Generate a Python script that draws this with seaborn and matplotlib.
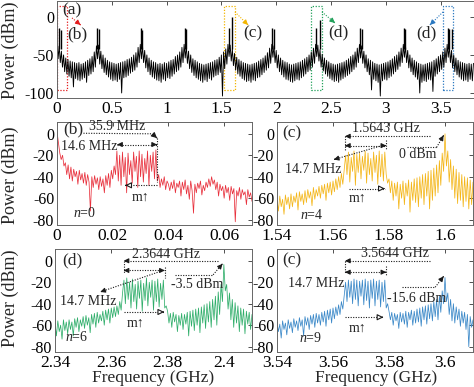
import numpy as np
import pandas as pd
import matplotlib
matplotlib.use("Agg")
import matplotlib.pyplot as plt
import seaborn as sns
from matplotlib.patches import Rectangle

# ------------------------------------------------------------------ data
# (a) full spectrum, sampled every 0.01 GHz from 0 GHz (dBm)
top_step = 0.01
top_db = [
    -30, -55, -38, -60, -45, -66, -50, -72, -54, -75,
    -56, -78, -58, -80, -59, -92, -60, -81, -61, -83,
    -60, -84, -62, -82, -61, -80, -59, -86, -57, -77,
    -55, -75, -52, -72, -46, -66, -38, -55, -37, -62,
    -45, -68, -50, -73, -54, -76, -57, -79, -59, -82,
    -60, -84, -61, -83, -62, -85, -61, -82, -60, -100,
    -59, -80, -58, -79, -56, -77, -55, -74, -53, -72,
    -50, -70, -47, -66, -40, -60, -36, -55, -38, -60,
    -44, -67, -50, -72, -54, -76, -57, -79, -59, -81,
    -60, -83, -62, -84, -61, -86, -62, -82, -60, -84,
    -61, -80, -59, -81, -57, -78, -56, -75, -52, -72,
    -50, -70, -46, -66, -40, -60, -36, -54, -38, -61,
    -45, -68, -50, -73, -55, -77, -57, -80, -59, -82,
    -61, -84, -62, -86, -63, -83, -62, -85, -61, -81,
    -60, -83, -59, -79, -57, -77, -56, -76, -53, -73,
    -50, -104, -46, -68, -42, -62, -36, -52, -37, -58,
    -42, -64, -48, -70, -53, -75, -56, -78, -58, -81,
    -60, -83, -61, -85, -62, -84, -63, -86, -62, -83,
    -61, -84, -60, -80, -58, -79, -56, -76, -54, -73,
    -51, -70, -47, -67, -41, -61, -36, -53, -38, -60,
    -44, -67, -50, -72, -54, -76, -57, -79, -59, -82,
    -60, -83, -62, -85, -63, -86, -62, -84, -61, -82,
    -60, -83, -59, -80, -57, -78, -55, -75, -53, -72,
    -50, -70, -46, -66, -41, -61, -36, -52, -37, -58,
    -43, -66, -49, -71, -54, -75, -57, -78, -59, -81,
    -61, -83, -62, -85, -63, -84, -62, -86, -61, -83,
    -60, -81, -59, -79, -57, -77, -55, -75, -52, -72,
    -50, -69, -46, -66, -41, -60, -36, -54, -38, -61,
    -45, -67, -50, -72, -55, -76, -57, -96, -59, -82,
    -61, -84, -62, -86, -63, -104, -62, -84, -61, -82,
    -60, -83, -59, -80, -57, -78, -55, -75, -52, -72,
    -50, -69, -46, -65, -41, -60, -36, -53, -38, -60,
    -44, -67, -50, -72, -54, -76, -57, -79, -59, -82,
    -61, -100, -62, -86, -63, -84, -62, -85, -61, -82,
    -60, -83, -59, -98, -57, -78, -55, -75, -52, -72,
    -50, -69, -46, -66, -41, -60, -36, -53, -38, -60,
    -44, -67, -50, -72, -54, -76, -57, -79, -59, -82,
    -60, -84, -61, -83, -62, -85, -61, -82, -62, -84,
    -61,
]
# spectral lines (comb edges and pumps) in the full spectrum
top_spike_f = [0.022, 0.034, 0.365, 0.379, 0.765, 0.779, 1.165, 1.179,
               1.565, 1.600, 1.965, 1.979, 2.365, 2.400, 2.765, 2.779,
               3.165, 3.179, 3.565, 3.579, 3.600]
top_spike_db = [-15, -17, -15, -16, -15, -17, -14, -16,
                -15, 0, -14, -16, -15, -3.5, -15, -16,
                -15, -16, -15, -16, -15.6]

# zoomed panels, sampled every 0.5 MHz from the panel start (dBm)
zoom_step = 0.0005
b_start = 0.0
b_db = [
    2, -8, -18, -24, -20, -30, -27, -38, -29, -42,
    -31, -44, -33, -40, -35, -47, -34, -43, -37, -46,
    -36, -48, -38, -45, -72, -40, -50, -39, -47, -41,
    -52, -40, -49, -42, -55, -39, -48, -37, -50, -34,
    -42, -30, -38, -16, -44, -20, -48, -17, -40, -22,
    -55, -18, -38, -25, -46, -17, -35, -21, -50, -16,
    -40, -19, -45, -23, -37, -16, -48, -20, -35, -17,
    -42, -15, -44, -38, -50, -42, -48, -40, -52, -44,
    -47, -53, -45, -51, -43, -55, -46, -50, -44, -58,
    -45, -52, -43, -56, -48, -61, -44, -53, -74, -47,
    -55, -46, -51, -44, -57, -48, -53, -45, -50, -42,
    -49, -40, -47, -43, -52, -45, -58, -47, -53, -49,
    -60, -48, -55, -50, -62, -49, -56, -51, -82, -53,
    -58, -50, -61, -52, -57, -54, -66, -52, -59, -55, -63,
]
c_start = 1.54
c_db = [
    -60, -72, -58, -68, -61, -75, -57, -66, -59, -70,
    -56, -68, -58, -64, -55, -71, -54, -63, -56, -66,
    -53, -64, -52, -60, -54, -67, -50, -61, -52, -58,
    -49, -60, -48, -56, -47, -62, -46, -55, -45, -57,
    -44, -54, -42, -52, -40, -50, -37, -47, -33, -20,
    -38, -17, -45, -22, -35, -16, -48, -19, -36, -18,
    -42, -21, -34, -16, -46, -18, -38, -23, -44, -17,
    -36, -20, -47, -16, -40, -19, -44, -17, -38, -46,
    -42, -55, -44, -62, -46, -58, -45, -70, -47, -60,
    -44, -66, -46, -58, -43, -73, -45, -62, -42, -64,
    -41, -68, -40, -60, -38, -66, -37, -58, -35, -70,
    -34, -62, -32, -58, -29, -55, -25, -48, -18, -35,
    0, -30, -16, -45, -24, -52, -30, -60, -33, -65,
    -36, -62, -38, -68, -40, -63, -41, -70, -43, -66, -45,
]
d_start = 2.34
d_db = [
    -58, -70, -56, -66, -60, -73, -55, -65, -57, -68,
    -55, -64, -57, -70, -54, -62, -53, -66, -55, -61,
    -52, -63, -51, -60, -53, -67, -50, -59, -49, -62,
    -48, -58, -50, -56, -47, -60, -46, -55, -45, -58,
    -44, -53, -43, -52, -42, -50, -38, -46, -30, -18,
    -40, -16, -36, -20, -44, -17, -38, -22, -45, -19,
    -35, -18, -47, -21, -37, -16, -42, -20, -34, -18,
    -46, -19, -38, -17, -43, -21, -36, -18, -44, -42,
    -47, -58, -49, -62, -48, -57, -50, -66, -51, -60,
    -49, -64, -50, -59, -48, -70, -47, -61, -46, -65,
    -45, -60, -44, -67, -43, -58, -41, -63, -40, -57,
    -38, -62, -36, -55, -33, -60, -29, -50, -22, -38,
    -3.5, -28, -22, -45, -30, -55, -36, -62, -39, -58,
    -42, -66, -44, -60, -45, -68, -47, -59, -48, -64, -50,
]
e_start = 3.54
e_db = [
    -57, -66, -59, -72, -56, -64, -58, -69, -55, -63,
    -57, -67, -54, -62, -56, -65, -53, -61, -55, -70,
    -52, -60, -53, -64, -51, -59, -50, -62, -49, -58,
    -50, -60, -48, -57, -47, -61, -46, -55, -45, -58,
    -44, -54, -43, -51, -41, -50, -38, -45, -32, -20,
    -38, -18, -34, -19, -40, -17, -36, -18, -42, -19,
    -33, -18, -41, -17, -37, -19, -44, -18, -35, -17,
    -42, -19, -36, -18, -43, -20, -38, -18, -44, -40,
    -47, -55, -48, -60, -49, -56, -50, -63, -48, -57,
    -49, -59, -47, -62, -48, -55, -46, -60, -47, -58,
    -45, -57, -44, -61, -43, -55, -42, -59, -41, -54,
    -40, -56, -38, -52, -36, -55, -33, -48, -28, -40,
    -15.6, -38, -30, -50, -36, -56, -40, -58, -43, -55,
    -45, -61, -47, -58, -48, -64, -50, -80, -52, -62, -55,
]

top_xticks = [0, 0.5, 1, 1.5, 2, 2.5, 3, 3.5]
top_xticklabels = ["0", "0.5", "1", "1.5", "2", "2.5", "3", "3.5"]
top_yticks = [0, -50, -100]
zoom_yticks = [0, -20, -40, -60, -80]
b_xticks, b_xticklabels = [0, 0.02, 0.04, 0.06], ["0", "0.02", "0.04", "0.06"]
c_xticks, c_xticklabels = [1.54, 1.56, 1.58, 1.6], ["1.54", "1.56", "1.58", "1.6"]
d_xticks, d_xticklabels = [2.34, 2.36, 2.38, 2.4], ["2.34", "2.36", "2.38", "2.4"]
e_xticks, e_xticklabels = [3.54, 3.56, 3.58, 3.6], ["3.54", "3.56", "3.58", "3.6"]

# ------------------------------------------------------------------ style
sns.set_theme(style="white")
plt.rcParams["font.family"] = ["Liberation Serif", "DejaVu Serif"]
plt.rcParams["mathtext.fontset"] = "custom"
plt.rcParams["mathtext.rm"] = "Liberation Serif"
plt.rcParams["mathtext.it"] = "Liberation Serif:italic"
plt.rcParams["axes.unicode_minus"] = False

RED, ORANGE, GREEN, BLUE = "#e8303c", "#f4b619", "#2fae6a", "#3a88c8"
BOX_RED, BOX_OR, BOX_GR, BOX_BL = "#e31a1c", "#f2b500", "#21a05a", "#2a78c0"
DOT = (0, (1, 1.3))

fig = plt.figure(figsize=(4.74, 3.87), dpi=100)
W, H = 474, 387


def px_axes(x0, y0, x1, y1):
    return fig.add_axes([x0 / W, 1 - y1 / H, (x1 - x0) / W, (y1 - y0) / H])


ax_top = px_axes(57, 1, 474, 98)
ax_b = px_axes(57, 122, 252, 225)
ax_c = px_axes(277, 122, 473, 225)
ax_d = px_axes(55, 249, 252, 352)
ax_e = px_axes(277, 249, 473, 352)


def style_axes(ax, xt, xtl, yt, xs=12.5, ys=11.5):
    ax.set_xticks(xt)
    ax.set_xticklabels(xtl)
    ax.set_yticks(yt)
    ax.set_yticklabels([str(v) for v in yt])
    ax.tick_params(direction="in", length=3, width=0.6, top=True, right=True,
                   colors="#333333", labelcolor="black")
    ax.tick_params(axis="x", labelsize=xs, pad=2)
    ax.tick_params(axis="y", labelsize=ys, pad=2)
    for s in ax.spines.values():
        s.set_linewidth(0.7)
        s.set_color("#666666")
    ax.set_xlabel("")
    ax.set_ylabel("")


def dotted(ax, xs, ys, color="k", lw=0.8):
    ax.plot(xs, ys, ls=DOT, color=color, lw=lw)


def head(ax, p_from, p_to, color="k", open_=False, ms=8):
    f = 0.03
    q = (p_to[0] - (p_to[0] - p_from[0]) * f, p_to[1] - (p_to[1] - p_from[1]) * f)
    ax.annotate("", xy=p_to, xytext=q,
                arrowprops=dict(arrowstyle="-|>", ec=color,
                                fc="white" if open_ else color, lw=0.8,
                                mutation_scale=ms, shrinkA=0, shrinkB=0))


def arrow(ax, p0, p1, color="k", open_=False, both=False, ms=8):
    dotted(ax, [p0[0], p1[0]], [p0[1], p1[1]], color=color)
    head(ax, p0, p1, color=color, open_=open_, ms=ms)
    if both:
        head(ax, p1, p0, color=color, open_=open_, ms=ms)


# ------------------------------------------------------------------ (a) top
top_f = np.arange(len(top_db)) * top_step
df_top = pd.DataFrame({"f": top_f, "p": top_db})
sns.lineplot(data=df_top, x="f", y="p", ax=ax_top, color="black", lw=0.65,
             estimator=None, sort=False)
ax_top.vlines(top_spike_f, -42, top_spike_db, color="black", lw=1.0)
ax_top.set_xlim(0, 3.805)
ax_top.set_ylim(-106.6, 21)
style_axes(ax_top, top_xticks, top_xticklabels, top_yticks, xs=12.5, ys=11.5)

for (x0, x1, c) in [(0.001, 0.088, BOX_RED), (1.524, 1.624, BOX_OR),
                    (2.318, 2.418, BOX_GR), (3.522, 3.613, BOX_BL)]:
    ax_top.add_patch(Rectangle((x0, -96), x1 - x0, 110.5, fill=False,
                               ec=c, ls=DOT, lw=0.9))
arrow(ax_top, (0.137, -1.3), (0.215, -10.5), color=BOX_RED, ms=7)
arrow(ax_top, (1.624, 6.6), (1.743, -10.5), color=BOX_OR, ms=7)
arrow(ax_top, (2.418, 6.6), (2.536, -7.9), color=BOX_GR, ms=7)
arrow(ax_top, (3.522, 6.6), (3.403, -10.5), color=BOX_BL, ms=7)
tk = dict(fontsize=12.5, va="center", color="#222222")
ax_top.text(0.05, 8, "(a)", ha="left", **tk)
ax_top.text(0.187, -23, "(b)", ha="center", **tk)
ax_top.text(1.784, -21, "(c)", ha="center", **tk)
ax_top.text(2.564, -19.7, "(d)", ha="center", **tk)
ax_top.text(3.367, -21, "(d)", ha="center", **tk)


# ------------------------------------------------------------------ zoom panels
def zoom_panel(ax, start, vals, color, xt, xtl):
    f = start + np.arange(len(vals)) * zoom_step
    d = pd.DataFrame({"f": f, "p": vals})
    sns.lineplot(data=d, x="f", y="p", ax=ax, color=color, lw=0.55,
                 estimator=None, sort=False)
    ax.set_xlim(start, start + 0.07)
    ax.set_ylim(-85, 11)
    style_axes(ax, xt, xtl, zoom_yticks)


zoom_panel(ax_b, b_start, b_db, RED, b_xticks, b_xticklabels)
zoom_panel(ax_c, c_start, c_db, ORANGE, c_xticks, c_xticklabels)
zoom_panel(ax_d, d_start, d_db, GREEN, d_xticks, d_xticklabels)
zoom_panel(ax_e, e_start, e_db, BLUE, e_xticks, e_xticklabels)

lab = dict(fontsize=12.5, va="center", ha="left")
ann = dict(fontsize=10, va="center")

# (b)
ax_b.text(0.0022, 4.0, "(b)", **lab)
ax_b.text(0.0215, 6.5, "35.9 MHz", ha="center", **ann)
dotted(ax_b, [0.0095, 0.0342], [0.5, 0.0])
head(ax_b, (0.0342, 0.0), (0.0359, -4.0))
ax_b.text(0.0016, -12, "14.6 MHz", ha="left", **ann)
arrow(ax_b, (0.0216, -10), (0.0359, -10), both=True, ms=7)
dotted(ax_b, [0.0359, 0.0359], [-4, -45])
arrow(ax_b, (0.0359, -48), (0.0245, -48), open_=True, ms=9)
ax_b.text(0.0299, -59, "m↑", ha="center", **ann)
ax_b.text(0.0056, -74, "$n$=0", ha="left", **ann)

# (c)
ax_c.text(1.5418, 0.5, "(c)", **lab)
ax_c.text(1.5791, 5.0, "1.5643 GHz", ha="center", **ann)
arrow(ax_c, (1.5945, -2.3), (1.5643, -2.3), ms=7)
dotted(ax_c, [1.5643, 1.5643], [-2, -15])
dotted(ax_c, [1.579, 1.579], [-6, -14])
arrow(ax_c, (1.5643, -11), (1.579, -11), both=True, ms=7)
arrow(ax_c, (1.5775, -11), (1.5603, -24), ms=7)
ax_c.text(1.5427, -33, "14.7 MHz", ha="left", **ann)
ax_c.text(1.5904, -19.5, "0 dBm", ha="center", **ann)
dotted(ax_c, [1.5864, 1.597], [-12.6, -12.6])
arrow(ax_c, (1.597, -12.6), (1.5995, -1.5), ms=7)
ax_c.text(1.5689, -60, "m↑", ha="center", **ann)
arrow(ax_c, (1.5657, -51), (1.5785, -51), open_=True, ms=9)
ax_c.text(1.5482, -76, "$n$=4", ha="left", **ann)

# (d)
ax_d.text(2.3425, 0.5, "(d)", **lab)
ax_d.text(2.3794, 6.0, "2.3644 GHz", ha="center", **ann)
arrow(ax_d, (2.3978, 0), (2.3644, 0), ms=7)
dotted(ax_d, [2.3644, 2.3644], [0, -11])
dotted(ax_d, [2.379, 2.379], [-6, -16])
arrow(ax_d, (2.3644, -9), (2.379, -9), both=True, ms=7)
ax_d.text(2.3905, -22, "-3.5 dBm", ha="center", **ann)
dotted(ax_d, [2.3825, 2.3962], [-13, -13])
arrow(ax_d, (2.3962, -13), (2.3995, -2.8), ms=7)
ax_d.text(2.3416, -38, "14.7 MHz", ha="left", **ann)
arrow(ax_d, (2.3773, -10), (2.3561, -29), ms=7)
ax_d.text(2.3687, -58.6, "m↑", ha="center", **ann)
arrow(ax_d, (2.3646, -47.7), (2.3788, -47.7), open_=True, ms=9)
ax_d.text(2.3436, -71, "$n$=6", ha="left", **ann)

# (e) labelled (c) in the original
ax_e.text(3.5418, 0.5, "(c)", **lab)
ax_e.text(3.5823, 7.0, "3.5644 GHz", ha="center", **ann)
arrow(ax_e, (3.5945, 0), (3.5643, 0), ms=7)
dotted(ax_e, [3.5643, 3.5643], [0, -11])
dotted(ax_e, [3.579, 3.579], [-5, -14])
arrow(ax_e, (3.5643, -10.6), (3.579, -10.6), both=True, ms=7)
ax_e.text(3.5441, -21, "14.7 MHz", ha="left", **ann)
ax_e.text(3.590, -35, "-15.6 dBm", ha="center", **ann)
dotted(ax_e, [3.5848, 3.5965], [-24.6, -24.6])
arrow(ax_e, (3.5965, -24.6), (3.5995, -14.5), ms=7)
ax_e.text(3.5689, -63, "m↑", ha="center", **ann)
arrow(ax_e, (3.5643, -52.6), (3.578, -52.6), open_=True, ms=9)
ax_e.text(3.5478, -71.5, "$n$=9", ha="left", **ann)

# axis titles
for yc in (50, 175, 298):
    fig.text(10 / W, 1 - yc / H, "Power (dBm)", rotation=90, ha="center",
             va="center", fontsize=13)
for xc in (153, 376):
    fig.text(xc / W, 1 - 378 / H, "Frequency (GHz)", ha="center",
             va="center", fontsize=12.5)

fig.savefig("out.png", dpi=100)
